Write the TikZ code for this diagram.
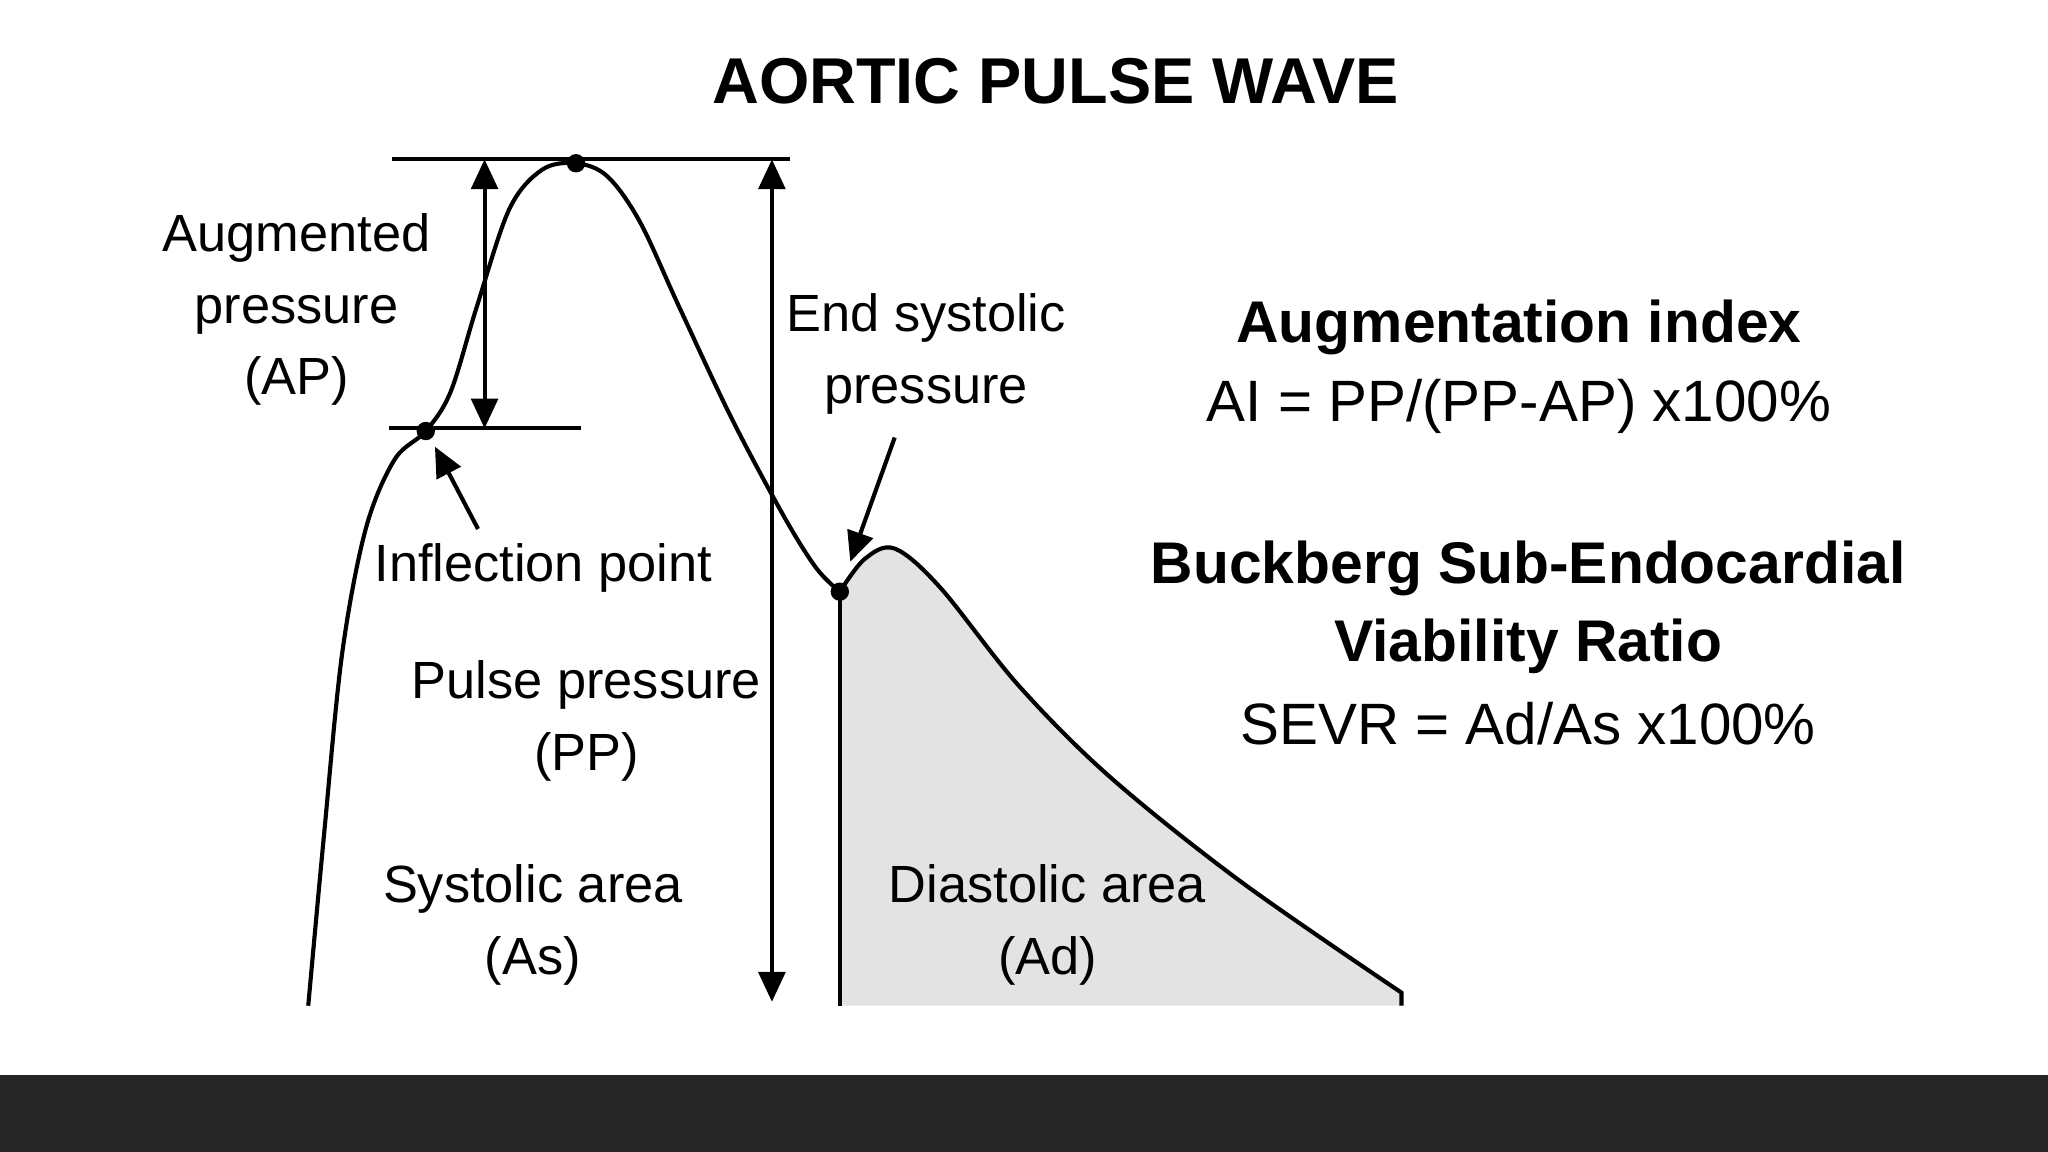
\documentclass[tikz,border=0pt]{standalone}
\usepackage{fontspec}
\setmainfont{Liberation Sans}
\usetikzlibrary{arrows.meta}
\begin{document}
\begin{tikzpicture}[x=0.01cm,y=-0.01cm,
  lbl/.style={align=center,font=\fontsize{11.4}{15.6}\selectfont},
  rlbl/.style={align=center,font=\fontsize{12.7}{17}\selectfont},
  rbold/.style={align=center,font=\fontsize{12.8}{17}\selectfont\bfseries},
  tip/.style={-{Triangle[length=6.5pt,width=5.8pt]}},
  dtip/.style={{Triangle[length=6.5pt,width=5.8pt]}-{Triangle[length=6.5pt,width=5.8pt]}},
  dot/.style={circle,fill=black,inner sep=0pt,minimum size=4pt},
  line width=0.9pt]
\useasboundingbox (0,0) rectangle (1568,882);
\fill[white] (0,0) rectangle (1568,882);
\fill[black!85] (0,823) rectangle (1568,882);
% diastolic area
\fill[gray!22] (643,770) -- plot[smooth,tension=0.55] coordinates {(643,453) (662,428) (685,420) (720,450) (780,525) (850,595) (950,675) (1073,760)} -- (1073,770) -- cycle;
\draw (643,770) -- (643,453);
\draw plot[smooth,tension=0.55] coordinates {(643,453) (662,428) (685,420) (720,450) (780,525) (850,595) (950,675) (1073,760)} -- (1073,770);
% systolic curve
\draw plot[smooth,tension=0.55] coordinates {(236,770) (248,640) (262,500) (280,405) (302,352) (326,330) (345,300) (365,235) (390,160) (415,130) (441,125) (465,135) (490,170) (520,235) (560,320) (600,395) (625,435) (643,453)};
% reference lines
\coordinate (t1) at (300,122); \coordinate (t2) at (605,122);
\coordinate (m1) at (298,328); \coordinate (m2) at (445,328);
\draw (t1) -- (t2);
\draw (m1) -- (m2);
\coordinate (a1) at (371,122); \coordinate (a2) at (371,328);
\draw[dtip] (a1) -- (a2);
\coordinate (p1) at (591,122); \coordinate (p2) at (591,767);
\draw[dtip] (p1) -- (p2);
\node[dot] (peak) at (441,125) {};
\node[dot] (infl) at (326,330) {};
\node[dot] (notch) at (643,453) {};
\coordinate (ia) at (366,405);
\draw[tip] (ia) -- (333,342);
\coordinate (ea) at (685,335);
\draw[tip] (ea) -- (651,430);
% labels
\node[font=\fontsize{14.1}{17}\selectfont\bfseries] (title) at (808,62) {AORTIC PULSE WAVE};
\node[lbl] (ap) at (227,237) {Augmented\\pressure\\(AP)};
\node[lbl] (es) at (709,271) {End systolic\\pressure};
\node[lbl] (ip) at (416,435) {Inflection point};
\node[lbl] (pp) at (449,552) {Pulse pressure\\(PP)};
\node[lbl] (sa) at (408,708) {Systolic area\\(As)};
\node[lbl] (da) at (802,708) {Diastolic area\\(Ad)};
\node[rbold] (aih) at (1163,251) {Augmentation index};
\node[rlbl] (aif) at (1163,311) {AI = PP/(PP-AP) x100\%};
\node[rbold] (bh) at (1170,465) {Buckberg Sub-Endocardial\\Viability Ratio};
\node[rlbl] (bf) at (1170,554) {SEVR = Ad/As x100\%};
\end{tikzpicture}
\end{document}
